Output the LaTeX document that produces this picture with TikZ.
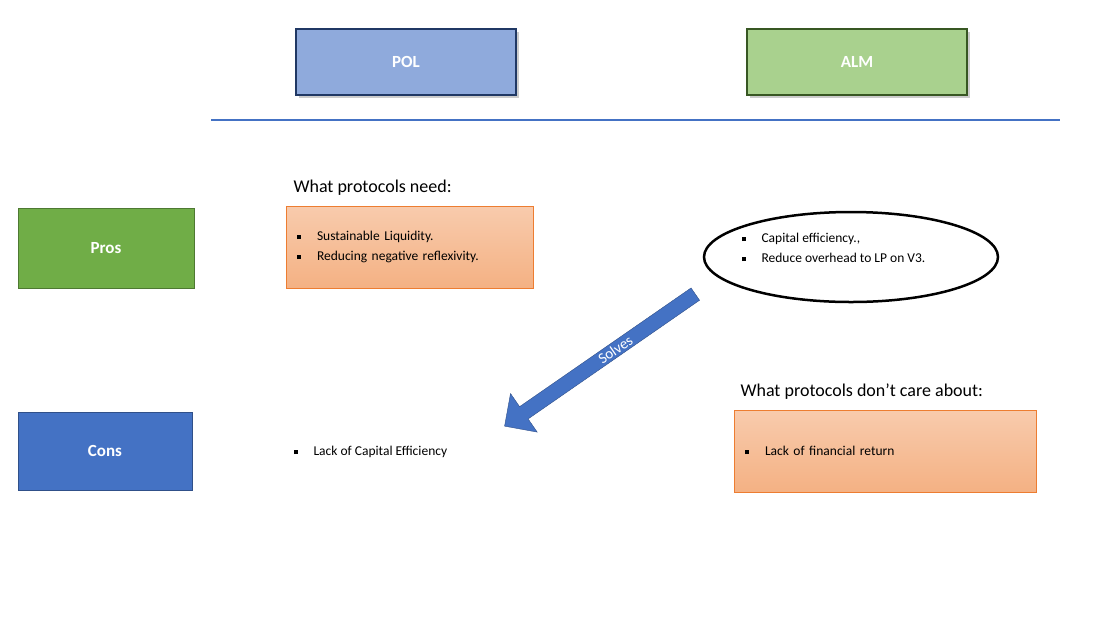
\documentclass[tikz,border=0pt]{standalone}
\usepackage{fontspec}
\setmainfont{Carlito}
\usetikzlibrary{shapes.arrows,shadows}
\definecolor{polf}{HTML}{8FAADC}\definecolor{pold}{HTML}{203864}
\definecolor{almf}{HTML}{A9D18E}\definecolor{almd}{HTML}{385723}
\definecolor{acc}{HTML}{4472C4}\definecolor{grn}{HTML}{70AD47}
\definecolor{ot}{HTML}{F8CBAD}\definecolor{ob}{HTML}{F4B183}\definecolor{oe}{HTML}{ED7D31}
\newcommand{\sqb}{\raisebox{1.5pt}{\rule{4pt}{4pt}}\hspace{16pt}}
\begin{document}
\begin{tikzpicture}[x=1pt,y=-1pt,
 hdr/.style={draw,line width=2.5pt,minimum width=220pt,minimum height=66pt,font=\fontsize{17}{20}\selectfont\bfseries,text=white,drop shadow={shadow xshift=3pt,shadow yshift=-3pt,opacity=0.4}},
 side/.style={draw,line width=0.8pt,text=white,font=\fontsize{17}{20}\selectfont\bfseries},
 obox/.style={draw=oe,line width=0.8pt,top color=ot,bottom color=ob,align=left,font=\fontsize{13.5}{20}\selectfont},
 ttl/.style={anchor=west,font=\fontsize{18}{21}\selectfont}]
\useasboundingbox (0,0) rectangle (1119,625);
\node[hdr,draw=pold,fill=polf] (pol) at (406,62) {POL};
\node[hdr,draw=almd,fill=almf] (alm) at (857,62) {ALM};
\coordinate (l1) at (211,120); \coordinate (l2) at (1060,120);
\draw[acc,line width=2pt] (l1) -- (l2);
\node[side,draw=grn!70!black,fill=grn,minimum width=176pt,minimum height=80pt] (pros) at (106,248) {Pros};
\node[side,draw=acc!70!black,fill=acc,minimum width=174pt,minimum height=78pt] (cons) at (105,451) {Cons};
\node[ttl] (need) at (290,188) {What protocols need:};
\node[obox,minimum width=247pt,minimum height=82pt,text width=225pt] (o1) at (409.5,247) {\sqb Sustainable Liquidity.\\\sqb Reducing negative reflexivity.};
\draw[line width=2.5pt] (851,257) ellipse (147pt and 45pt);
\node[anchor=west,align=left,font=\fontsize{13.5}{20}\selectfont] (e1) at (738,248) {\sqb Capital efficiency.,\\\sqb Reduce overhead to LP on V3.};
\node[single arrow,shape border rotate=180,fill=acc,draw=acc!70!black,minimum height=232pt,minimum width=28pt,single arrow head extend=16pt,inner sep=2pt,rotate=34.7,text=white,font=\fontsize{15}{18}\selectfont] (arr) at (603,358) {\hspace{30pt}Solves};
\node[anchor=west,font=\fontsize{13.5}{16}\selectfont] (lce) at (290,452) {\sqb Lack of Capital Efficiency};
\node[ttl] (dc) at (737,392) {What protocols don’t care about:};
\node[obox,minimum width=302pt,minimum height=82pt,text width=280pt] (o2) at (885,451) {\sqb Lack of financial return};
\end{tikzpicture}
\end{document}
